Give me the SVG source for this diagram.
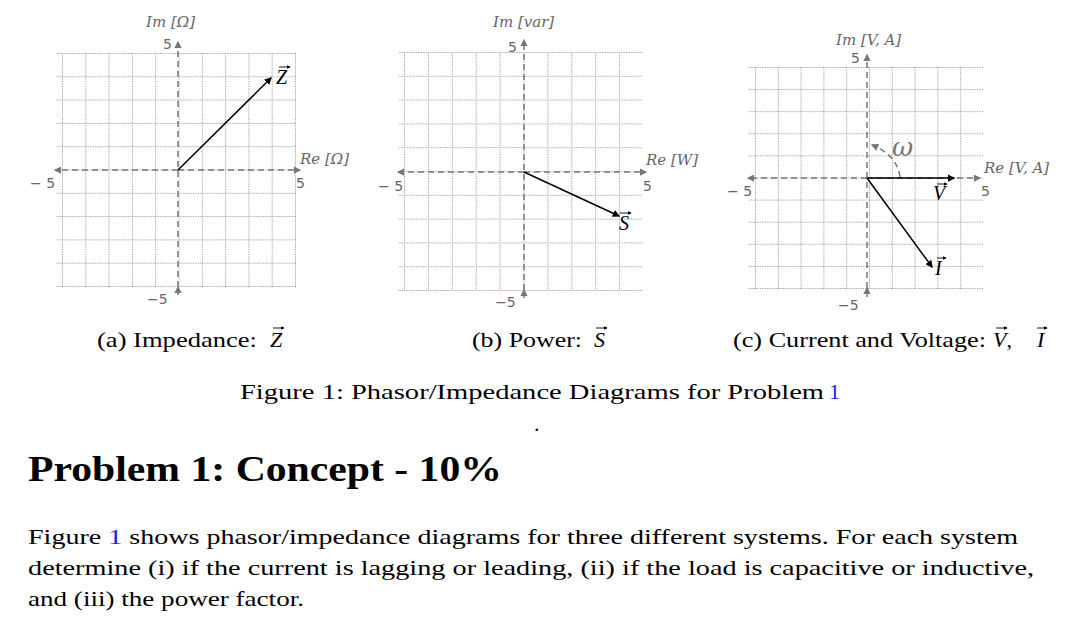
<svg xmlns="http://www.w3.org/2000/svg" width="1066" height="621" viewBox="0 0 1066 621">
<style>
.g{stroke:#999;stroke-width:1;stroke-dasharray:1.2 1.2;fill:none}
.ax{stroke:#777;stroke-width:1.5;stroke-dasharray:6 4;fill:none}
.v{stroke:#000;stroke-width:1.5;fill:none}
.oa{stroke:#000;stroke-width:0.9;fill:none}
.lab{font-family:"DejaVu Serif",serif;font-style:italic;fill:#666;font-size:15px}
.num{font-family:"DejaVu Sans",sans-serif;fill:#666;font-size:14px}
.vl{font-family:"Liberation Serif",serif;font-style:italic;font-size:20px;fill:#000}
.t{font-family:"Liberation Serif",serif;font-size:22px;fill:#000}
.lk{fill:#1a1aff}
</style>
<defs>
<marker id="ga" viewBox="0 0 6 6" refX="5" refY="3" markerWidth="5" markerHeight="5" orient="auto"><path d="M0,0L6,3L0,6z" fill="#777"/></marker>
<marker id="ba" viewBox="0 0 6 6" refX="5" refY="3" markerWidth="5" markerHeight="5" orient="auto"><path d="M0,0L6,3L0,6z" fill="#000"/></marker>
<marker id="sa" viewBox="0 0 6 6" refX="5" refY="3" markerWidth="4" markerHeight="4" orient="auto"><path d="M0,0L6,3L0,6z" fill="#000"/></marker>
<pattern id="p1" width="23.3" height="23.3" patternUnits="userSpaceOnUse" x="62" y="53"><path d="M0.5,0V23.3M0,0.5H23.3" class="g"/></pattern>
<pattern id="p2" width="23.9" height="23.8" patternUnits="userSpaceOnUse" x="404" y="52"><path d="M0.5,0V23.8M0,0.5H23.9" class="g"/></pattern>
<pattern id="p3" width="22.8" height="22.1" patternUnits="userSpaceOnUse" x="755" y="67"><path d="M0.5,0V22.1M0,0.5H22.8" class="g"/></pattern>
</defs>
<g id="panel-a">
<rect x="56" y="53" width="240" height="235" fill="url(#p1)"/>
<line x1="178" y1="287" x2="178" y2="42" class="ax" marker-end="url(#ga)"/>
<line x1="178" y1="295" x2="178" y2="287" class="ax" marker-end="url(#ga)"/>
<line x1="178" y1="170" x2="300" y2="170" class="ax" marker-end="url(#ga)"/>
<line x1="178" y1="170" x2="55" y2="170" class="ax" marker-end="url(#ga)"/>
<line x1="178" y1="170" x2="271" y2="78" class="v" marker-end="url(#ba)"/>
<text x="146" y="27" class="lab">Im [Ω]</text>
<text x="163" y="49" class="num">5</text>
<text x="300" y="164" class="lab">Re [Ω]</text>
<text x="296" y="188" class="num">5</text>
<text x="30" y="188" class="num">− 5</text>
<text x="147" y="304" class="num">−5</text>
<text x="276" y="84" class="vl">Z</text>
<path d="M279,67H290" class="oa" marker-end="url(#sa)"/>
</g>
<g id="panel-b">
<rect x="398" y="52" width="245" height="239" fill="url(#p2)"/>
<line x1="524" y1="290" x2="524" y2="40" class="ax" marker-end="url(#ga)"/>
<line x1="524" y1="298" x2="524" y2="290" class="ax" marker-end="url(#ga)"/>
<line x1="524" y1="172" x2="646" y2="172" class="ax" marker-end="url(#ga)"/>
<line x1="524" y1="172" x2="398" y2="172" class="ax" marker-end="url(#ga)"/>
<line x1="524" y1="172" x2="619" y2="216" class="v" marker-end="url(#ba)"/>
<text x="493" y="27" class="lab">Im [var]</text>
<text x="508" y="52" class="num">5</text>
<text x="646" y="165" class="lab">Re [W]</text>
<text x="643" y="191" class="num">5</text>
<text x="378" y="191" class="num">− 5</text>
<text x="495" y="307" class="num">−5</text>
<text x="619" y="230" class="vl">S</text>
<path d="M620,213H631" class="oa" marker-end="url(#sa)"/>
</g>
<g id="panel-c">
<rect x="749" y="67" width="234" height="222" fill="url(#p3)"/>
<line x1="867" y1="288" x2="867" y2="55" class="ax" marker-end="url(#ga)"/>
<line x1="867" y1="297" x2="867" y2="288" class="ax" marker-end="url(#ga)"/>
<line x1="867" y1="178" x2="980" y2="178" class="ax" marker-end="url(#ga)"/>
<line x1="867" y1="178" x2="748" y2="178" class="ax" marker-end="url(#ga)"/>
<path d="M900,177 Q897,155 872,145" class="ax" stroke-dasharray="4 3" marker-end="url(#ga)"/>
<line x1="867" y1="178" x2="954" y2="178" class="v" marker-end="url(#ba)"/>
<line x1="867" y1="178" x2="932" y2="267" class="v" marker-end="url(#ba)"/>
<text x="836" y="45" class="lab">Im [V, A]</text>
<text x="851" y="63" class="num">5</text>
<text x="984" y="173" class="lab">Re [V, A]</text>
<text x="981" y="196" class="num">5</text>
<text x="727" y="196" class="num">− 5</text>
<text x="838" y="310" class="num">−5</text>
<text x="892" y="156" font-family="DejaVu Serif,serif" font-style="italic" font-size="26" fill="#777">ω</text>
<text x="933" y="200" class="vl">V</text>
<path d="M937,184H947" class="oa" marker-end="url(#sa)"/>
<text x="935" y="275" class="vl">I</text>
<path d="M937,258H946" class="oa" marker-end="url(#sa)"/>
</g>
<g id="captions">
<text x="97" y="347" class="t" textLength="160" lengthAdjust="spacingAndGlyphs">(a) Impedance:</text>
<text x="270" y="347" class="t" font-style="italic">Z</text>
<path d="M273,328H284" class="oa" marker-end="url(#sa)"/>
<text x="472" y="347" class="t" textLength="110" lengthAdjust="spacingAndGlyphs">(b) Power:</text>
<text x="594" y="347" class="t" font-style="italic">S</text>
<path d="M596,328H607" class="oa" marker-end="url(#sa)"/>
<text x="733" y="347" class="t" textLength="253" lengthAdjust="spacingAndGlyphs">(c) Current and Voltage:</text>
<text x="993" y="347" class="t" font-style="italic">V<tspan font-style="normal">,</tspan></text>
<path d="M996,328H1007" class="oa" marker-end="url(#sa)"/>
<text x="1037" y="347" class="t" font-style="italic">I</text>
<path d="M1037,328H1047" class="oa" marker-end="url(#sa)"/>
<text x="240" y="399" class="t" textLength="584" lengthAdjust="spacingAndGlyphs">Figure 1: Phasor/Impedance Diagrams for Problem</text>
<text x="829" y="399" class="t lk">1</text>
<text x="534" y="431" class="t">.</text>
<text x="28" y="481" font-family="Liberation Serif,serif" font-weight="bold" font-size="35" textLength="474" lengthAdjust="spacingAndGlyphs">Problem 1: Concept - 10%</text>
<text x="28" y="544" class="t" textLength="990" lengthAdjust="spacingAndGlyphs">Figure <tspan class="lk">1</tspan> shows phasor/impedance diagrams for three different systems. For each system</text>
<text x="28" y="575" class="t" textLength="1006" lengthAdjust="spacingAndGlyphs">determine (i) if the current is lagging or leading, (ii) if the load is capacitive or inductive,</text>
<text x="28" y="606" class="t" textLength="276" lengthAdjust="spacingAndGlyphs">and (iii) the power factor.</text>
</g>
</svg>
